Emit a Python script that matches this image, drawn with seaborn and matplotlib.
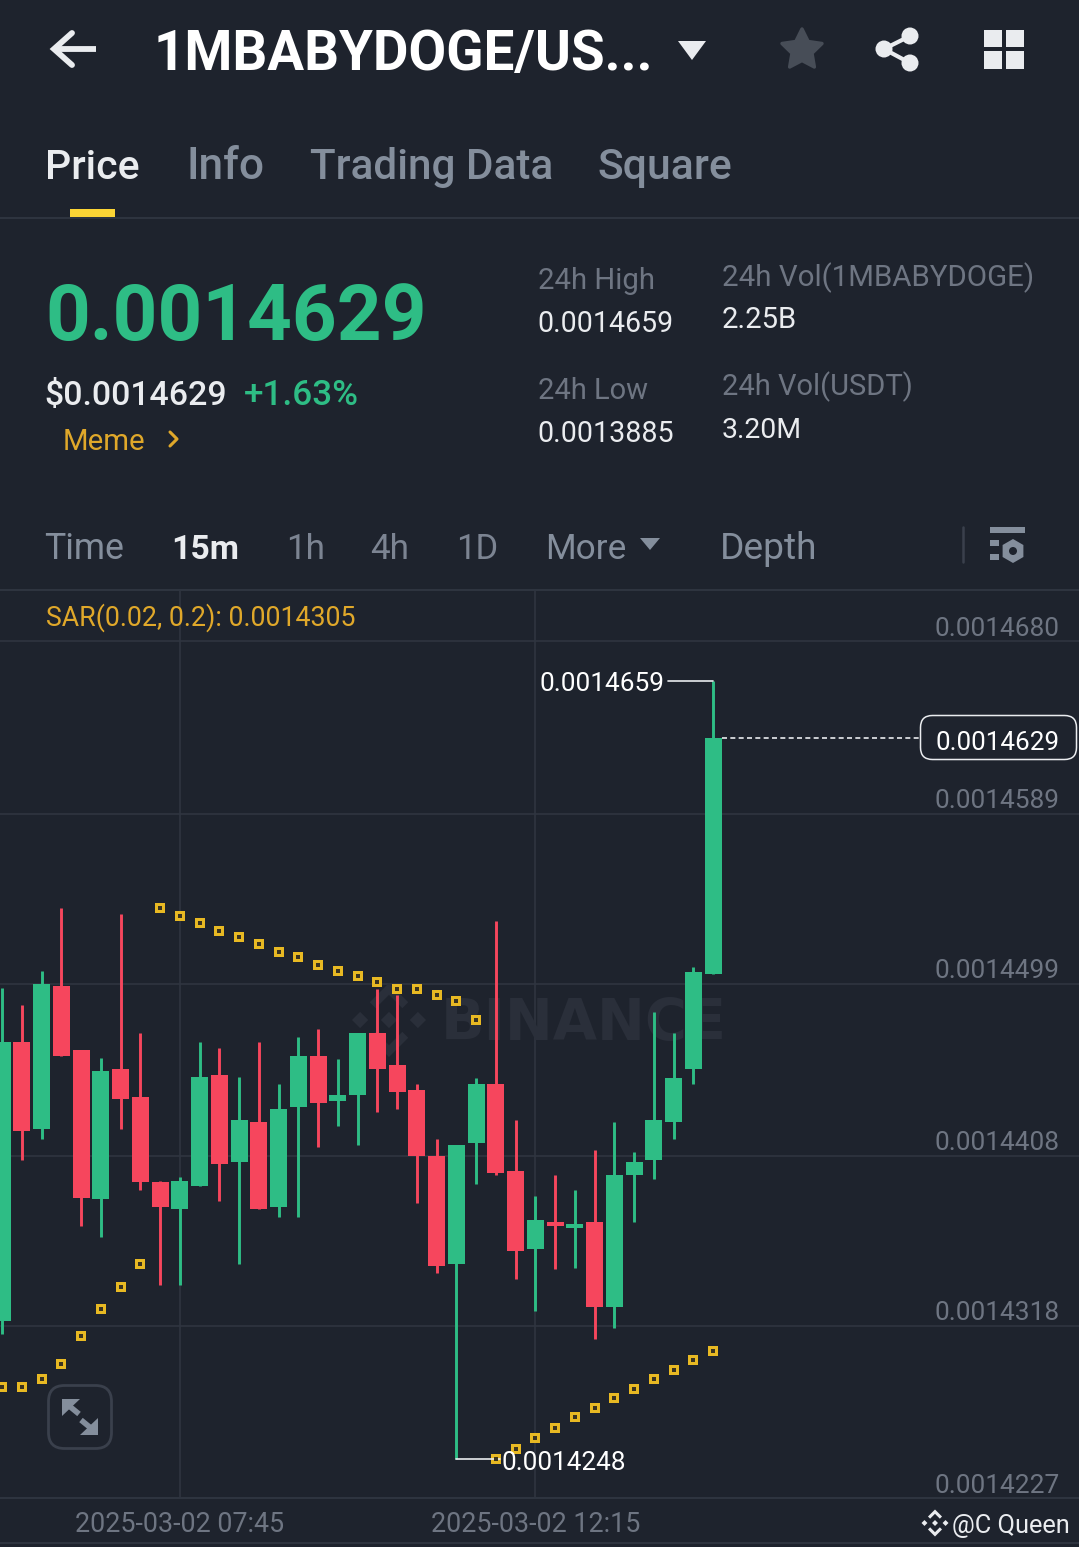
#!/usr/bin/env python3
"""Binance mobile screen: 15m candles for 1MBABYDOGE/USDT with SAR dots."""

import matplotlib
matplotlib.use('Agg')
import matplotlib.pyplot as plt
from matplotlib.patches import FancyBboxPatch, Polygon, Rectangle, Circle, RegularPolygon
import numpy as np
import pandas as pd
import seaborn as sns

# prices in units of 1e-7
candle_open = [14321, 14468, 14422, 14498, 14464, 14385, 14454, 14439, 14394, 14380,
               14392, 14451, 14405, 14426, 14381, 14434, 14461, 14437, 14440, 14473,
               14456, 14443, 14408, 14351, 14415, 14446, 14400, 14359, 14373, 14370,
               14373, 14328, 14398, 14406, 14426, 14454, 14504]
candle_high = [14497, 14488, 14506, 14539, 14464, 14460, 14536, 14473, 14395, 14397,
               14468, 14465, 14450, 14468, 14446, 14471, 14475, 14459, 14473, 14496,
               14493, 14446, 14417, 14414, 14449, 14532, 14427, 14387, 14398, 14390,
               14411, 14426, 14410, 14484, 14473, 14508, 14659]
candle_low = [14314, 14406, 14417, 14461, 14371, 14365, 14422, 14390, 14340, 14340,
              14392, 14384, 14351, 14380, 14376, 14376, 14413, 14424, 14414, 14431,
              14433, 14383, 14346, 14248, 14393, 14398, 14343, 14326, 14348, 14349,
              14311, 14317, 14373, 14396, 14417, 14446, 14504]
candle_close = [14468, 14421, 14499, 14461, 14386, 14453, 14438, 14394, 14381, 14395,
                14450, 14404, 14427, 14380, 14433, 14461, 14436, 14440, 14473, 14454,
                14442, 14408, 14350, 14414, 14446, 14399, 14358, 14374, 14371, 14372,
                14328, 14398, 14405, 14427, 14449, 14505, 14629]
sar_values = [14286, 14286, 14290, 14298, 14313, 14327, 14339, 14351, 14539, 14535,
              14531, 14527, 14524, 14520, 14516, 14513, 14509, 14506, 14503, 14500,
              14496, 14496, 14493, 14490, 14480, 14248, 14253, 14259, 14264, 14270,
              14275, 14280, 14285, 14290, 14295, 14300, 14305]
price_ticks = [14680, 14589, 14499, 14408, 14318, 14227]
time_tick_idx = [9, 27]
time_tick_labels = ['2025-03-02 07:45', '2025-03-02 12:15']
last_price = 14629
high_price = 14659
low_price = 14248

BG = '#1E232D'
GREEN = '#2EBD85'
RED = '#F6465D'
YELLOW = '#E8B923'
AMBER = '#E0A82A'
LIGHT = '#EAECEF'
GRAY = '#848E9C'
MID = '#7C8492'
DIM = '#6E7582'
LINE = '#2F3540'
UI_FONT = 'Roboto'

W, H = 1079, 1547
sns.set_theme(style='dark', rc={'figure.facecolor': BG, 'axes.facecolor': 'none',
                                'grid.color': LINE, 'font.family': UI_FONT})

df = pd.DataFrame({'idx': np.arange(len(candle_open)), 'open': candle_open, 'high': candle_high,
                   'low': candle_low, 'close': candle_close, 'sar': sar_values})
df['color'] = np.where(df['close'] >= df['open'], GREEN, RED)

fig = plt.figure(figsize=(W / 100, H / 100), dpi=100)

# pixel-space layer for the app chrome
ui = fig.add_axes([0, 0, 1, 1], zorder=5, facecolor='none')
ui.set_xlim(0, W)
ui.set_ylim(H, 0)
ui.axis('off')

# chart axes: spans y=591..1498 px, 19.75 px per candle
px_per_unit = 857 / (price_ticks[0] - price_ticks[-1])
ax = fig.add_axes([0, (H - 1498.4) / H, 1, (1498 - 591) / H], zorder=2)
ax.set_ylim(price_ticks[-1], price_ticks[0] + (641 - 591) / px_per_unit)
ax.set_xlim(-2.1 / 19.75, (W - 2.1) / 19.75)
ax.set_yticks(price_ticks)
ax.set_xticks(time_tick_idx)
ax.tick_params(length=0, labelleft=False, labelbottom=False)
ax.grid(True, color=LINE, lw=1.2)
ax.set_axisbelow(True)
sns.despine(ax=ax, left=True, bottom=True)

ax.vlines(df['idx'], df['low'], df['high'], colors=df['color'], lw=2.1, zorder=3)
ax.bar(df['idx'], (df['close'] - df['open']).abs().clip(lower=2), width=0.86,
       bottom=df[['open', 'close']].min(axis=1), color=df['color'], lw=0, zorder=3)

# SAR dots: yellow square with a dark centre
sns.scatterplot(data=df, x='idx', y='sar', ax=ax, marker='s', s=46, color=YELLOW,
                linewidth=0, zorder=4, legend=False)
sns.scatterplot(data=df, x='idx', y='sar', ax=ax, marker='s', s=6, color='#3A3320',
                linewidth=0, zorder=5, legend=False)
ax.set_xlabel('')
ax.set_ylabel('')

# high / low leaders and the last price dashed line
hi_i = df['high'].idxmax()
lo_i = df['low'].idxmin()
ax.plot([hi_i - 2.28, hi_i], [high_price, high_price], color=LIGHT, lw=1.2, zorder=4)
ax.plot([lo_i, lo_i + 2.23], [low_price, low_price], color=LIGHT, lw=1.2, zorder=4)
ax.plot([df['idx'].iloc[-1] + 0.43, 46.5], [last_price, last_price], color=LIGHT, lw=1.2,
        dashes=(3, 2), zorder=4)

renderer = fig.canvas.get_renderer()


def put(s, x0, x1, base, color, weight='normal', layer=None, zorder=6, family=UI_FONT):
    """Text fitted to the pixel span x0..x1, sitting on baseline base."""
    t = (layer or ui).text(x0 - 0.5, base, s, color=color, fontsize=20, fontweight=weight,
                           family=family, ha='left', va='baseline', transform=ui.transData,
                           zorder=zorder)
    t.set_fontsize(20 * (x1 - x0 + 1) / t.get_window_extent(renderer).width)
    return t


def logo(layer, cx, cy, s, color, zorder=6):
    """Diamond mark: centre and side diamonds, chevrons above and below."""
    def add(points):
        layer.add_patch(Polygon([(cx + px * s, cy + py * s) for px, py in points], closed=True,
                                fc=color, ec='none', transform=ui.transData, zorder=zorder))

    for dx in (-0.78, 0, 0.78):
        add([(dx - 0.22, 0), (dx, -0.22), (dx + 0.22, 0), (dx, 0.22)])
    for sign in (-1, 1):
        add([(0, sign), (0.52, sign * 0.48), (0.36, sign * 0.32), (0, sign * 0.68),
             (-0.36, sign * 0.32), (-0.52, sign * 0.48)])


# watermark sits under the candles
logo(ax, 389, 1020, 37, '#2A2F3A', zorder=1)
put('BINANCE', 441, 725, 1040, '#2A2F3A', weight='bold', layer=ax, zorder=1, family='DejaVu Sans')

# header
ui.plot([96, 54], [49, 49], color=LIGHT, lw=4.2, solid_capstyle='butt')
ui.plot([72, 54, 72], [33, 49, 65], color=LIGHT, lw=4.2, solid_joinstyle='miter')
put('1MBABYDOGE/US...', 154, 652, 70, 'white', weight='bold')
ui.add_patch(Polygon([(678, 41), (706, 41), (692, 60)], fc=LIGHT, ec='none'))
star_angles = np.deg2rad(np.arange(10) * 36 - 90)
star_radii = np.where(np.arange(10) % 2 == 0, 21, 10.5)
ui.add_patch(Polygon(np.column_stack([802 + star_radii * np.cos(star_angles),
                                      50 + star_radii * np.sin(star_angles)]),
                     fc='#474D57', ec='#474D57', lw=2.5, joinstyle='round'))
ui.plot([910, 884, 910], [36, 49, 63], color=LIGHT, lw=3)
for cx, cy, r in [(884, 49, 8.5), (910, 36, 8.5), (910, 63, 8.5)]:
    ui.add_patch(Circle((cx, cy), r, fc=LIGHT, ec='none'))
for x, y, w, h in [(984, 30, 18, 17), (1006, 30, 18, 17), (984, 51, 18, 18), (1006, 51, 18, 18)]:
    ui.add_patch(Rectangle((x, y), w, h, fc=LIGHT, ec='none'))

# tabs
put('Price', 46, 140, 179, LIGHT, weight='medium')
put('Info', 187, 264, 179, GRAY, weight='medium')
put('Trading Data', 310, 552, 179, GRAY, weight='medium')
put('Square', 598, 732, 179, GRAY, weight='medium')
ui.add_patch(Rectangle((70, 209), 45, 8, fc='#FCD535', ec='none'))

# price block
put('0.0014629', 46, 426, 340, GREEN, weight='bold')
put('$0.0014629', 45, 227, 405, LIGHT, weight='medium')
put('+1.63%', 244, 358, 405, GREEN, weight='medium')
put('Meme', 63, 144, 450, AMBER)
ui.plot([170, 177, 170], [432, 439, 446], color=AMBER, lw=2.2)
put('24h High', 538, 654, 289, DIM)
put('0.0014659', 538, 673, 332, LIGHT)
put('24h Low', 538, 647, 399, DIM)
put('0.0013885', 538, 673, 442, LIGHT)
put('24h Vol(1MBABYDOGE)', 722, 1033, 286, DIM)
put('2.25B', 722, 796, 328, LIGHT)
put('24h Vol(USDT)', 722, 912, 395, DIM)
put('3.20M', 722, 801, 438, LIGHT)

# interval row
put('Time', 45, 124, 559, GRAY)
put('15m', 172, 239, 559, LIGHT, weight='bold')
put('1h', 287, 325, 559, MID)
put('4h', 371, 409, 559, MID)
put('1D', 457, 498, 559, MID)
put('More', 546, 626, 559, GRAY)
ui.add_patch(Polygon([(640, 538), (660, 538), (650, 550)], fc=GRAY, ec='none'))
put('Depth', 720, 816, 559, GRAY)
ui.plot([963, 963], [527, 562], color='#3A404C', lw=1.8)
ui.add_patch(Rectangle((990, 527), 35, 6, fc=GRAY, ec='none'))
ui.add_patch(Rectangle((990, 540), 9, 6, fc=GRAY, ec='none'))
ui.add_patch(Rectangle((990, 554), 9, 6, fc=GRAY, ec='none'))
ui.add_patch(RegularPolygon((1013, 551), 6, radius=12, fc=GRAY, ec='none'))
ui.add_patch(Circle((1013, 551), 4, fc=BG, ec='none'))

# separators
for y in [218, 590, 1498, 1543]:
    ui.plot([0, W], [y, y], color=LINE, lw=1.4, zorder=1)

put('SAR(0.02, 0.2): 0.0014305', 47, 356, 626, AMBER)

# price axis labels, written just above their gridlines
for p in price_ticks:
    ax.annotate(f'{p / 1e7:.7f}', xy=(1, p), xycoords=('axes fraction', 'data'),
                xytext=(-13.8, 4.2), textcoords='offset points', ha='right', va='baseline',
                color=DIM, fontsize=18.9, zorder=6, annotation_clip=False)

# time labels
for idx, label in zip(time_tick_idx, time_tick_labels):
    ax.annotate(label, xy=(idx, price_ticks[-1]), xytext=(0, -24.5), textcoords='offset points',
                ha='center', va='baseline', color=DIM, fontsize=19.4, annotation_clip=False)

# last price box
ui.add_patch(FancyBboxPatch((920.5, 715.5), 156, 44, boxstyle='round,pad=0,rounding_size=12',
                            fc=BG, ec=LIGHT, lw=1.1, zorder=6))
put(f'{last_price / 1e7:.7f}', 936, 1059, 750, 'white', zorder=7)

# high / low value labels
put(f'{high_price / 1e7:.7f}', 540, 664, 691, 'white')
put(f'{low_price / 1e7:.7f}', 502, 625, 1470, 'white')

# expand button
ui.add_patch(FancyBboxPatch((48.5, 1385.5), 63, 63, boxstyle='round,pad=0,rounding_size=16',
                            fc='none', ec='#3A404C', lw=2))
ui.add_patch(Polygon([(62, 1399), (80, 1399), (62, 1416)], fc=GRAY, ec='none'))
ui.add_patch(Polygon([(98, 1435), (80, 1435), (98, 1418)], fc=GRAY, ec='none'))
ui.plot([68, 79], [1405, 1414], color=GRAY, lw=4, solid_capstyle='butt')
ui.plot([92, 81], [1429, 1420], color=GRAY, lw=4, solid_capstyle='butt')

# author stamp
logo(ui, 935, 1523, 13.5, LIGHT)
put('@C Queen', 953, 1070, 1533, LIGHT)

fig.savefig('out.png', dpi=100, facecolor=BG)
